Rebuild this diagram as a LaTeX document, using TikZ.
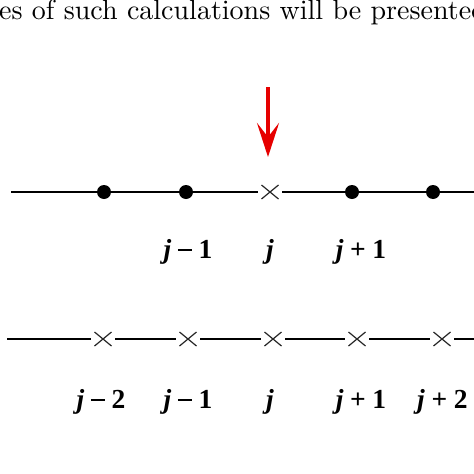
\documentclass[tikz,border=0pt]{standalone}
\usepackage{fontspec}
\newfontfamily\lblfont{Liberation Serif}
\usetikzlibrary{arrows.meta,calc}
\newcommand{\lblminus}{\rule[0.24em]{0.52em}{0.075em}}
\newcommand{\lblsp}{\hspace{0.24em}}
\tikzset{
  axisline/.style={line width=1.6pt, black},
  dotnode/.style={circle, fill=black, inner sep=0pt, minimum size=14pt},
  crossnode/.style={rectangle, inner sep=0pt, minimum width=24pt, minimum height=16pt,
    path picture={
      \draw[line width=1.2pt, black!85]
        ($(path picture bounding box.center)+(-8.5,-7)$) -- ($(path picture bounding box.center)+(8.5,7)$)
        ($(path picture bounding box.center)+(-8.5,7)$) -- ($(path picture bounding box.center)+(8.5,-7)$);
    }},
  lbl/.style={anchor=base, inner sep=0pt, font=\lblfont\fontsize{27.5}{30}\selectfont\bfseries},
  redarrow/.style={line width=4pt, color={rgb,255:red,230;green,0;blue,0},
    -{Stealth[length=34pt, width=22pt, inset=14pt]}}
}
\begin{document}
\begin{tikzpicture}[x=1pt,y=1pt]
\useasboundingbox (0,0) rectangle (474,-474);
\fill[white] (0,0) rectangle (474,-474);
% header text
\node[anchor=base west, inner sep=0pt] (title) at (-1,-19) {\scalebox{2.8}{\fontsize{10}{12}\selectfont es of such calculations will be presented}};
% top row
\coordinate (t0) at (11,-192);
\node[dotnode] (d1) at (104,-192) {};
\node[dotnode] (d2) at (186,-192) {};
\node[crossnode] (c3) at (270,-192) {};
\node[dotnode] (d4) at (352,-192) {};
\node[dotnode] (d5) at (433,-192) {};
\coordinate (t6) at (476,-192);
\draw[axisline] (t0) -- (d1) (d1) -- (d2) (d2) -- (c3) (c3) -- (d4) (d4) -- (d5) (d5) -- (t6);
% arrow
\coordinate (as) at (268,-87);
\coordinate (ae) at (268,-157);
\draw[redarrow] (as) -- (ae);
% top labels
\node[lbl] (l1) at (188,-258) {\textit{j}\lblsp\lblminus\lblsp 1};
\node[lbl] (l2) at (270,-258) {\textit{j}};
\node[lbl] (l3) at (361,-258) {\textit{j}\lblsp+\lblsp 1};
% bottom row
\coordinate (b0) at (7,-339);
\node[crossnode] (e1) at (103,-339) {};
\node[crossnode] (e2) at (188,-339) {};
\node[crossnode] (e3) at (273,-339) {};
\node[crossnode] (e4) at (357,-339) {};
\node[crossnode] (e5) at (442,-339) {};
\coordinate (b6) at (476,-339);
\draw[axisline] (b0) -- (e1) (e1) -- (e2) (e2) -- (e3) (e3) -- (e4) (e4) -- (e5) (e5) -- (b6);
% bottom labels
\node[lbl] (m1) at (101,-408) {\textit{j}\lblsp\lblminus\lblsp 2};
\node[lbl] (m2) at (188,-408) {\textit{j}\lblsp\lblminus\lblsp 1};
\node[lbl] (m3) at (270,-408) {\textit{j}};
\node[lbl] (m4) at (361,-408) {\textit{j}\lblsp+\lblsp 1};
\node[lbl, anchor=base west] (m5) at (417,-408) {\textit{j}\lblsp+\lblsp 2};
\end{tikzpicture}
\end{document}
